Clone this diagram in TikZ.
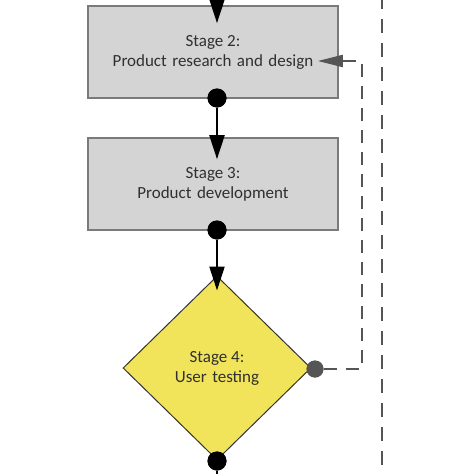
\documentclass[tikz,border=0pt]{standalone}
\usepackage{fontspec}
\setmainfont{Carlito}
\usetikzlibrary{arrows.meta,shapes.geometric,calc}
\definecolor{boxfill}{HTML}{D4D4D4}
\definecolor{boxline}{HTML}{7A7A7A}
\definecolor{dyellow}{HTML}{F2E45A}
\definecolor{txt}{HTML}{303030}
\definecolor{dgray}{HTML}{555555}
\newcommand{\wsp}{\ \hspace{1.6pt}}
\begin{document}
\begin{tikzpicture}[x=1pt,y=-1pt,
  stagebox/.style={draw=boxline,fill=boxfill,line width=1.6pt,minimum width=250pt,minimum height=92pt,inner sep=0pt,align=center,text=txt,font=\fontsize{17}{20}\selectfont},
  decision/.style={diamond,draw=black!80,fill=dyellow,line width=1pt,minimum width=188pt,minimum height=184pt,inner sep=0pt,align=center,text=txt,font=\fontsize{17}{20}\selectfont},
  blackdot/.style={circle,fill=black,minimum size=19pt,inner sep=0pt},
  graydot/.style={circle,fill=dgray,minimum size=17pt,inner sep=0pt},
  flow/.style={line width=2.2pt,-{Triangle[width=15pt,length=24pt]}},
  sidedash/.style={line width=2pt,draw=dgray,dash pattern=on 14pt off 10pt}]
\useasboundingbox (0,0) rectangle (474,474);
\node[stagebox] (s2) at (213,52) {Stage 2:\\Product\wsp research\wsp and\wsp design};
\node[stagebox] (s3) at (213,184) {Stage 3:\\Product\wsp development};
\node[decision] (s4) at (217,368) {Stage 4:\\User\wsp testing};
\coordinate (top) at (217,-2);
\coordinate (bot) at (217,490);
\coordinate (fbk) at (362,61);
\coordinate (vt) at (382,-5);
\coordinate (vb) at (382,480);
\node[blackdot] (d2) at (217,98) {};
\node[blackdot] (d3) at (217,230) {};
\node[blackdot] (d4) at (217,461) {};
\node[graydot] (g4) at (315,369) {};
\draw[sidedash] (vt) -- (vb);
\draw[flow,shorten >=-18pt] (top) -- (top |- s2.north);
\draw[flow,shorten >=-22pt] (d2) -- (d2 |- s3.north);
\draw[flow,shorten >=-15pt] (d3) -- (s4.north);
\draw[line width=2.2pt] (d4) -- (bot);
\draw[line width=2pt,draw=dgray,dash pattern=on 13pt off 9pt] (g4.east) -- (g4.east -| fbk) -- (fbk) -- ($(fbk)+(-8,0)$);
\draw[line width=2pt,draw=dgray,-{Triangle[width=12pt,length=25pt]},shorten >=-21pt] ($(fbk)+(-8,0)$) -- (fbk -| s2.east);
\node[blackdot] at (d2) {};
\node[blackdot] at (d3) {};
\node[blackdot] at (d4) {};
\node[graydot] at (g4) {};
\end{tikzpicture}
\end{document}
